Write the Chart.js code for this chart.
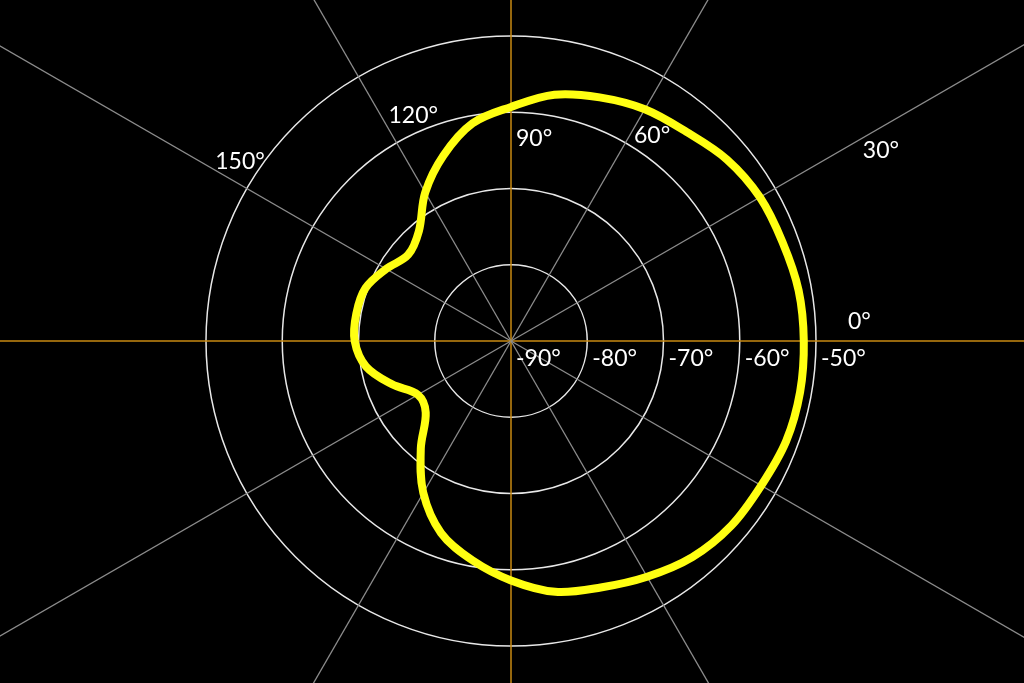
<!DOCTYPE html>
<html>
<head>
<meta charset="utf-8">
<script src="https://cdn.jsdelivr.net/npm/chart.js@4.4.0/dist/chart.umd.min.js"></script>
<style>
  html, body { margin: 0; padding: 0; background: #000; }
  #wrap { width: 1024px; height: 683px; position: relative; }
</style>
</head>
<body>
<div id="wrap"><canvas id="polarChart"></canvas></div>
<script>
// bearing in degrees, counter-clockwise from the right
const angles = [0, 10, 20, 30, 40, 50, 60, 70, 80, 90, 100, 110,
                120, 130, 140, 150, 160, 170, 180, 190, 200, 210, 220, 230,
                240, 250, 260, 270, 280, 290, 300, 310, 320, 330, 340, 350];
// level at each bearing
const levels = [-51.6, -51.7, -52.1, -52.3, -53.0, -54.2, -54.9, -56.0, -57.2, -59.3, -61.0, -64.1,
                -67.5, -71.2, -72.4, -71.1, -69.7, -69.4, -69.5, -70.7, -73.4, -75.9, -75.4, -71.6,
                -67.0, -63.2, -60.8, -58.6, -56.6, -55.6, -54.3, -53.0, -52.3, -52.1, -51.6, -51.5];
const rings = [-90, -80, -70, -60, -50];
const spokeAngles = [0, 30, 60, 90, 120, 150, 180, 210, 240, 270, 300, 330];
const angleTicks = [0, 30, 60, 90, 120, 150];

// radar goes clockwise from its start, so flip the order
const chartAngles = [angles[0]].concat(angles.slice(1).reverse());
const chartLevels = [levels[0]].concat(levels.slice(1).reverse());

const FONT = '23px Lato, "Open Sans", sans-serif';

// where each angle label sits: distance along its spoke, then a nudge
const labelSpots = {
  0:   { d: 337, dx: 0,  dy: -20 },
  30:  { d: 382, dx: 21, dy: 0 },
  60:  { d: 238, dx: 4,  dy: 0 },
  90:  { d: 203, dx: 5,  dy: 0 },
  120: { d: 261, dx: 8,  dy: 0 },
  150: { d: 360, dx: 16, dy: 0 }
};

const polarDecor = {
  id: 'polarDecor',
  beforeDatasetsDraw(chart) {
    const scale = chart.scales.r;
    const ctx = chart.ctx;
    const cx = scale.xCenter, cy = scale.yCenter;
    ctx.save();
    spokeAngles.forEach(a => {
      const p = scale.getPointPosition(chartAngles.indexOf(a), 1400);
      ctx.beginPath();
      ctx.moveTo(cx, cy);
      ctx.lineTo(p.x, p.y);
      ctx.lineWidth = a % 90 === 0 ? 1.5 : 1.3;
      ctx.strokeStyle = a % 90 === 0 ? '#c98a12' : '#8c8c8c';
      ctx.stroke();
    });

    ctx.fillStyle = '#ffffff';
    ctx.font = FONT;
    ctx.textAlign = 'left';
    ctx.textBaseline = 'alphabetic';
    rings.forEach(v => {
      const d = scale.getDistanceFromCenterForValue(v);
      ctx.fillText(v + '°', cx + d + 5, cy + 25);
    });
    angleTicks.forEach(a => {
      const s = labelSpots[a];
      const p = scale.getPointPosition(chartAngles.indexOf(a), s.d);
      ctx.fillText(a + '°', p.x + s.dx, p.y + s.dy + 8);
    });
    ctx.restore();
  }
};

const ctxPolar = document.getElementById('polarChart').getContext('2d');

const polarChart = new Chart(ctxPolar, {
  type: 'radar',
  data: {
    labels: chartAngles.map(a => a + '°'),
    datasets: [{
      label: 'Level',
      data: chartLevels,
      borderColor: '#ffff12',
      borderWidth: 8,
      pointRadius: 0,
      fill: false,
      tension: 0.35
    }]
  },
  options: {
    responsive: true,
    maintainAspectRatio: false,
    animation: false,
    layout: { padding: { top: 36, bottom: 36, left: 0, right: 2 } },
    plugins: {
      legend: { display: false },
      tooltip: { enabled: false }
    },
    scales: {
      r: {
        min: -90,
        max: -50,
        startAngle: 90,
        ticks: { display: false, stepSize: 10 },
        grid: { circular: true, color: '#e8e8e8', lineWidth: 1.5 },
        angleLines: { display: false },
        pointLabels: { display: false }
      }
    }
  },
  plugins: [polarDecor]
});
</script>
</body>
</html>
